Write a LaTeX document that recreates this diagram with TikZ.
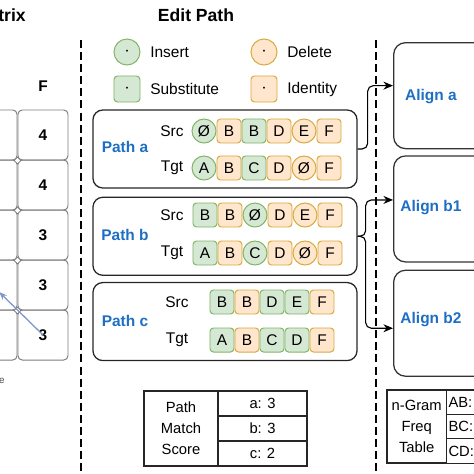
\documentclass[tikz,border=0pt]{standalone}
\usepackage{fontspec}
\setmainfont{Liberation Sans}
\usetikzlibrary{arrows.meta,positioning,calc,shapes.geometric}
\definecolor{insfill}{RGB}{213,232,212}
\definecolor{insline}{RGB}{130,179,102}
\definecolor{idnfill}{RGB}{255,230,204}
\definecolor{idnline}{RGB}{215,170,60}
\definecolor{pathblue}{RGB}{30,110,195}
\definecolor{cellgray}{RGB}{125,125,125}
\definecolor{trackblue}{RGB}{125,152,200}

\tikzset{
  tokbase/.style={draw, line width=0.7pt, minimum size=0.6cm, inner sep=0pt, font=\fontsize{11}{13}\selectfont},
  tokins/.style={tokbase, circle, fill=insfill, draw=insline},
  tokdel/.style={tokbase, circle, fill=idnfill, draw=idnline},
  toksub/.style={tokbase, rounded corners=2.5pt, fill=insfill, draw=insline},
  tokidn/.style={tokbase, rounded corners=2.5pt, fill=idnfill, draw=idnline},
  legend/.style={minimum size=0.65cm},
  pathbox/.style={draw=black!85, line width=0.9pt, rounded corners=7pt, minimum width=6.6cm, minimum height=1.95cm},
  alignbox/.style={draw=black!80, line width=0.9pt, rounded corners=8.5pt, minimum width=4cm, minimum height=2.65cm},
  mcell/.style={draw=cellgray, line width=0.7pt, rounded corners=3pt, minimum size=1.25cm, font=\bfseries\fontsize{11}{13}\selectfont},
  joint/.style={diamond, draw=cellgray, fill=white, line width=0.5pt, minimum size=0.17cm, inner sep=0pt},
  tabcell/.style={draw=black!85, line width=0.8pt, outer sep=0pt, font=\fontsize{10.5}{15}\selectfont},
  flow/.style={-{Stealth[length=2.4mm,width=2mm]}, line width=0.8pt, rounded corners=4pt},
  sepline/.style={line width=1.4pt, dash pattern=on 5.7pt off 2.9pt},
}

\begin{document}
\begin{tikzpicture}[x=0.025cm, y=-0.025cm, every node/.style={font=\fontsize{11}{13}\selectfont}]
\useasboundingbox (0,0) rectangle (474,474);
\clip (0,0) rectangle (474,474);

% titles
\node[font=\bfseries\fontsize{12.5}{14}\selectfont, anchor=east, inner sep=0pt] (ttlm) at (26,15) {Matrix};
\node[font=\bfseries\fontsize{12.5}{14}\selectfont] (ttle) at (196,15) {Edit Path};

% separators
\draw[sepline] (81,40) -- (81,474);
\draw[sepline] (376,40) -- (376,474);

% matrix column
\node[mcell] (fh) at (43,86) [draw=none] {F};
\foreach \v [count=\i] in {4,4,3,3,3} {
  \node[mcell] (e\i) at (-8,85+50*\i) {};
  \node[mcell] (f\i) at (43,85+50*\i) {\v};
}
\foreach \i in {1,...,4}
  \node[joint] (j\i) at ($(e\i.south east)!0.5!(f\i.south west)$) {};
\draw[trackblue, line width=0.9pt, -{Stealth[length=2mm]}, shorten >=0.25cm] (f5.center) -- (e4.center);
\node[font=\fontsize{7}{8}\selectfont, text=black!70, anchor=east, inner sep=0pt] (note) at (5,381) {e};

% legend
\node[tokins, legend] (lgi) at (127,52) {\tiny\textbullet};
\node[anchor=west, inner sep=0pt] (lgit) at (150,52) {Insert};
\node[tokdel, legend] (lgd) at (264,52) {\tiny\textbullet};
\node[anchor=west, inner sep=0pt] (lgdt) at (287,52) {Delete};
\node[toksub, legend] (lgs) at (127,89) {\tiny\textbullet};
\node[anchor=west, inner sep=0pt] (lgst) at (150,89) {Substitute};
\node[tokidn, legend] (lgn) at (264,89) {\tiny\textbullet};
\node[anchor=west, inner sep=0pt] (lgnt) at (287,89) {Identity};

% path boxes
\node[pathbox] (pa) at (225,149) {};
\node[pathbox, below=0.2cm of pa] (pb) {};
\node[pathbox, below=0.15cm of pb] (pc) {};
\node[font=\bfseries\fontsize{11}{13}\selectfont, text=pathblue] (pal) at (125,147) {Path a};
\node[font=\bfseries\fontsize{11}{13}\selectfont, text=pathblue] (pbl) at (125,235) {Path b};
\node[font=\bfseries\fontsize{11}{13}\selectfont, text=pathblue] (pcl) at (125,321) {Path c};
\node (asrc) at (172,131) {Src};
\node (atgt) at (172,168) {Tgt};
\node (bsrc) at (172,215) {Src};
\node (btgt) at (172,253) {Tgt};
\node (csrc) at (177,302) {Src};
\node (ctgt) at (177,340) {Tgt};

% tokens
\foreach \c/\k [count=\i] in {Ø/ins,B/idn,B/sub,D/idn,E/del,F/idn}
  \node[tok\k] (as\i) at (179+25*\i,131) {\c};
\foreach \c/\k [count=\i] in {A/ins,B/idn,C/sub,D/idn,Ø/del,F/idn}
  \node[tok\k] (at\i) at (179+25*\i,168) {\c};
\foreach \c/\k [count=\i] in {B/sub,B/idn,Ø/ins,D/idn,E/del,F/idn}
  \node[tok\k] (bs\i) at (180+25*\i,215) {\c};
\foreach \c/\k [count=\i] in {A/sub,B/idn,C/ins,D/idn,Ø/del,F/idn}
  \node[tok\k] (bt\i) at (180+25*\i,253) {\c};
\foreach \c/\k [count=\i] in {B/sub,B/idn,D/sub,E/sub,F/idn}
  \node[tok\k] (cs\i) at (197+25*\i,302) {\c};
\foreach \c/\k [count=\i] in {A/sub,B/idn,C/sub,D/sub,F/idn}
  \node[tok\k] (ct\i) at (197+25*\i,340) {\c};

% align boxes
\node[alignbox, anchor=north west] (ala) at (393,42) {};
\node[alignbox, below=0.15cm of ala] (alb1) {};
\node[alignbox, below=0.175cm of alb1] (alb2) {};
\node[font=\bfseries\fontsize{11}{13}\selectfont, text=pathblue] (alat) at (431,97) {Align a};
\node[font=\bfseries\fontsize{11}{13}\selectfont, text=pathblue] (alb1t) at (431,208) {Align b1};
\node[font=\bfseries\fontsize{11}{13}\selectfont, text=pathblue] (alb2t) at (431,320) {Align b2};

% connectors
\draw[flow] (pa.east) -- ++(10,0) |- ([yshift=0.25cm]ala.west);
\draw[flow] (pb.east) -- ++(8,0) |- ([yshift=0.225cm]alb1.west);
\draw[flow] (pb.east) -- ++(8,0) |- ([yshift=-0.125cm]alb2.west);

% score table
\node[tabcell, anchor=north west, minimum width=1.85cm, minimum height=1.875cm, align=center] (scl) at (144,391) {Path\\Match\\Score};
\node[tabcell, anchor=north west, minimum width=2.225cm, minimum height=0.625cm] (sca) at (scl.north east) {a: 3};
\node[tabcell, below=0pt of sca, minimum width=2.225cm, minimum height=0.625cm] (scb) {b: 3};
\node[tabcell, below=0pt of scb, minimum width=2.225cm, minimum height=0.625cm] (scc) {c: 2};

% n-gram table
\node[tabcell, anchor=north west, minimum width=1.45cm, minimum height=1.825cm, align=center] (ngl) at (387,390) {n-Gram\\Freq\\Table};
\node[tabcell, anchor=north west, minimum height=0.61cm, text width=2.8cm, inner xsep=1.5pt, align=left] (nga) at (ngl.north east) {AB:};
\node[tabcell, below=0pt of nga, minimum height=0.61cm, text width=2.8cm, inner xsep=1.5pt, align=left] (ngb) {BC:};
\node[tabcell, below=0pt of ngb, minimum height=0.61cm, text width=2.8cm, inner xsep=1.5pt, align=left] (ngc) {CD:};
\end{tikzpicture}
\end{document}
